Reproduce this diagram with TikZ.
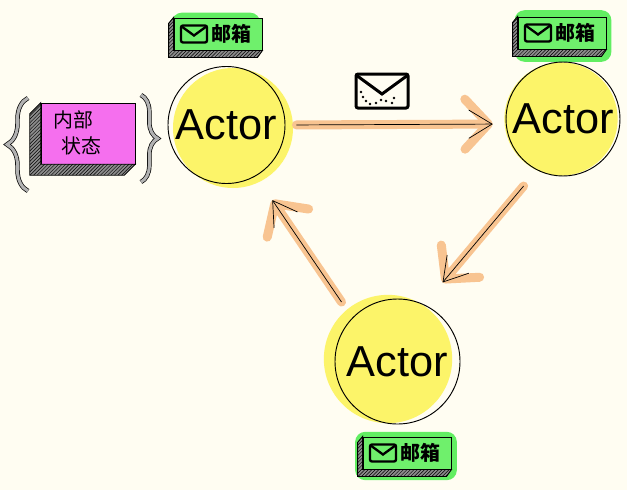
\documentclass[tikz,border=0pt]{standalone}
\usepackage{fontspec}
\setmainfont{Liberation Sans}
\newfontfamily\cjk{Noto Sans CJK SC}
\usetikzlibrary{arrows.meta,patterns,decorations.pathreplacing}
\definecolor{paper}{HTML}{FFFDF2}
\definecolor{sun}{HTML}{FCF469}
\definecolor{leaf}{HTML}{6FF06C}
\definecolor{blobgreen}{HTML}{62EE62}
\definecolor{rose}{HTML}{F56FEE}
\definecolor{peach}{HTML}{F8C491}
\tikzset{
actor/.style=
    {circle,
    draw=black,
    thick,
    inner sep=0pt,
    font=\fontsize{37}{37}\selectfont
    },
sunblob/.style=
    {circle,
    fill=sun,
    inner sep=0pt
    },
greenblob/.style=
    {rectangle,rounded corners=3mm,
    fill=blobgreen,
    inner sep=0pt
    },
mailfront/.style=
    {rectangle,
    draw=black,
    thick,
    fill=leaf,
    minimum width=26.4mm,
    minimum height=9.6mm
    },
mailtext/.style=
    {inner sep=0pt,
    font=\cjk\fontsize{17}{17}\selectfont\bfseries
    },
side/.style=
    {draw=black,
    thick,
    preaction={fill=black!45},
    pattern=north east lines,
    pattern color=black
    },
inktext/.style=
    {inner sep=0pt,
    font=\cjk\fontsize{17}{17}\selectfont
    },
flowwide/.style=
    {draw=peach,
    line width=2.7mm,
    line cap=round,
    -{Straight Barb[length=7mm,width=15mm,round]}
    },
flowthin/.style=
    {draw=black,
    semithick,
    -{Straight Barb[length=7mm,width=8.5mm]}
    },
curly/.style=
    {draw=black,
    line width=.6pt,
    double=black!30,
    double distance=2.6pt,
    decorate
    },
envelope/.pic=
    {\draw[black,rounded corners=.6mm] (-13,-8.5) rectangle (13,8.5);
    \draw[black] (-13,-8) -- (0,1.5) -- (13,-8);
    }
}
% one mailbox: name, x, y of the green front
\newcommand{\mailbox}[3]{
\node[mailfront] (#1) at (#2,#3) {};
\draw[side] (#1.north west) -- ++(-5,6) -- ([xshift=-1.5mm,yshift=-2.1mm]#1.south west)
    -- ([xshift=-1.5mm,yshift=-2.1mm]#1.south east) -- (#1.south east) -- (#1.south west) -- cycle;
\pic[line width=.7mm] at ([xshift=-7.2mm]#1.center) {envelope};
\node[mailtext] (#1text) at ([xshift=3.9mm]#1.center) {邮箱};
}

\begin{document}
\begin{tikzpicture}[x=.3mm,y=-.3mm]
\useasboundingbox[fill=paper] (0,0) rectangle (627,490);

% colour under the ink
\node[sunblob,minimum size=36mm] (sunA) at (233,128) {};
\node[sunblob,minimum size=34mm] (sunB) at (561,119) {};
\node[sunblob,minimum size=38.5mm] (sunC) at (388,359) {};
\node[greenblob,minimum width=26.5mm,minimum height=11mm] (greenA) at (216,31) {};
\node[greenblob,minimum width=29mm,minimum height=15.5mm] (greenB) at (563,36) {};
\node[greenblob,minimum width=30.5mm,minimum height=14.5mm] (greenC) at (406,456) {};

% actors
\node[actor,minimum size=35.1mm] (actorA) at (226.5,125) {Actor};
\node[actor,minimum size=34.2mm] (actorB) at (563,119) {Actor};
\node[actor,minimum size=37.5mm] (actorC) at (397.5,361.5) {Actor};

% mailboxes
\mailbox{boxA}{218}{34}
\mailbox{boxB}{562}{33}
\mailbox{boxC}{407}{453}

% internal state
\node[rectangle,draw=black,fill=rose,minimum width=28.2mm,minimum height=18.3mm] (state) at (88,133.5) {};
\draw[side] (state.north west) -- ++(-11,11) -- ([xshift=-3.3mm,yshift=-3.3mm]state.south west)
    -- ([xshift=-3.3mm,yshift=-3.3mm]state.south east) -- (state.south east) -- (state.south west) -- cycle;
\node[inktext] (stateone) at (73,120) {内部};
\node[inktext] (statetwo) at (81,146) {状态};
\coordinate (braceLtop) at (28,98);
\coordinate (braceLbot) at (28,191);
\coordinate (braceRtop) at (141,95);
\coordinate (braceRbot) at (141,182);
\draw[curly,decoration={brace,amplitude=6.3mm}] (braceLbot) -- (braceLtop);
\draw[curly,decoration={brace,amplitude=5mm}] (braceRtop) -- (braceRbot);

% messages between the actors
\draw[flowwide,shorten <=3.3mm,shorten >=3.9mm] (actorA.0) -- (actorB.185);
\draw[flowthin,shorten <=3.3mm,shorten >=3.9mm] (actorA.0) -- (actorB.185);
\draw[flowwide,shorten <=6.2mm,shorten >=8.6mm] (actorB.243) -- (actorC.65);
\draw[flowthin,shorten <=6.2mm,shorten >=8.6mm] (actorB.243) -- (actorC.65);
\draw[flowwide,shorten <=5.7mm,shorten >=8.7mm] (actorC.136) -- (actorA.300);
\draw[flowthin,shorten <=5.7mm,shorten >=8.7mm] (actorC.136) -- (actorA.300);

% the message on its way
\pic[scale=2,line width=.9mm] at (382,91) {envelope};
\foreach \dotx/\doty in {361/92,363/97,366/101,370/104,376/103,381/100,386/101,392/103,394/98}
    \fill[black] (\dotx,\doty) circle (.4mm);
\end{tikzpicture}
\end{document}
